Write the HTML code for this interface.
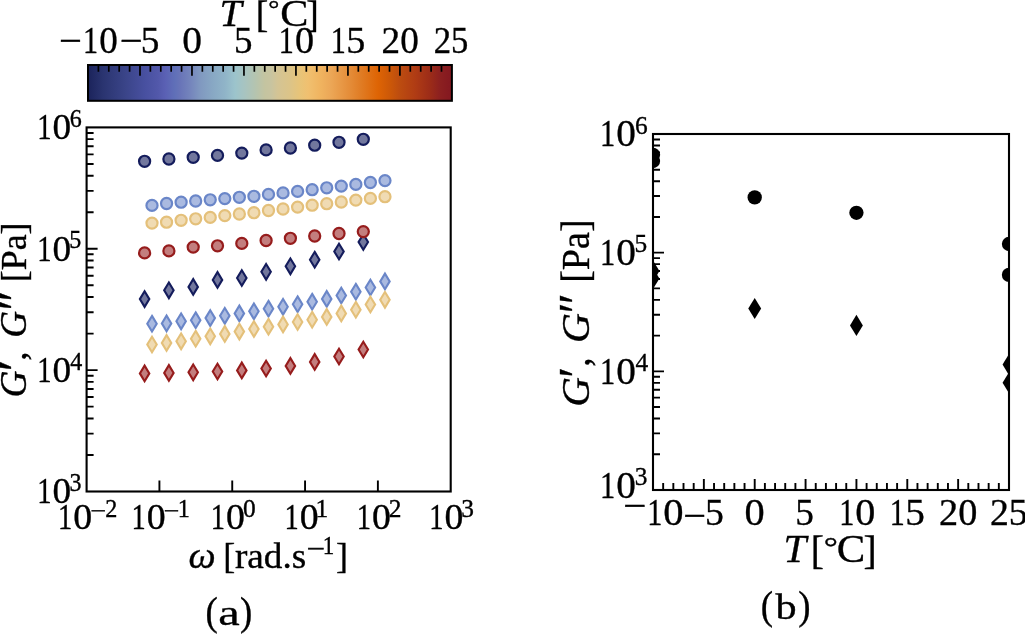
<!DOCTYPE html>
<html><head><meta charset="utf-8"><title>Figure</title>
<style>
html,body{margin:0;padding:0;background:#fff;width:1025px;height:634px;overflow:hidden}
svg{display:block}
text{font-family:"Liberation Serif","Times New Roman",serif;fill:#000;stroke:#000;stroke-width:0.35px;font-kerning:none}
</style></head><body>
<svg width="1025" height="634" viewBox="0 0 1025 634"><defs><linearGradient id="cm" gradientUnits="userSpaceOnUse" x1="88.0" x2="451.9" y1="0" y2="0"><stop offset="0.0027" stop-color="#1c245c"/><stop offset="0.0412" stop-color="#2a3470"/><stop offset="0.1017" stop-color="#3a4488"/><stop offset="0.1566" stop-color="#4850a0"/><stop offset="0.1924" stop-color="#5258aa"/><stop offset="0.2116" stop-color="#5a60b4"/><stop offset="0.2391" stop-color="#6070b8"/><stop offset="0.2528" stop-color="#6874b8"/><stop offset="0.2803" stop-color="#7484bc"/><stop offset="0.3078" stop-color="#8098c0"/><stop offset="0.3435" stop-color="#88a8c4"/><stop offset="0.3765" stop-color="#90b4c8"/><stop offset="0.4040" stop-color="#9cc4cc"/><stop offset="0.4314" stop-color="#a8c4c0"/><stop offset="0.4589" stop-color="#b4c4b0"/><stop offset="0.4864" stop-color="#c4c4a0"/><stop offset="0.5029" stop-color="#c8c4a0"/><stop offset="0.5221" stop-color="#d4c494"/><stop offset="0.5551" stop-color="#dcc488"/><stop offset="0.5826" stop-color="#e8c478"/><stop offset="0.6046" stop-color="#f0c070"/><stop offset="0.6375" stop-color="#f0b460"/><stop offset="0.6650" stop-color="#eca858"/><stop offset="0.6925" stop-color="#e89a48"/><stop offset="0.7200" stop-color="#e48c38"/><stop offset="0.7502" stop-color="#e07c24"/><stop offset="0.7969" stop-color="#de6404"/><stop offset="0.8299" stop-color="#cc5808"/><stop offset="0.8574" stop-color="#bc4c10"/><stop offset="0.8986" stop-color="#b03c14"/><stop offset="0.9398" stop-color="#9c2c18"/><stop offset="0.9673" stop-color="#8c2020"/><stop offset="0.9975" stop-color="#841820"/></linearGradient><clipPath id="cb"><rect x="653.0" y="134.0" width="356.0" height="356.0"/></clipPath></defs><rect width="1025" height="634" fill="#fff"/><rect x="88.0" y="65.0" width="363.90" height="35.80" fill="url(#cm)"/><path d="M98.40,65.00V71.70M108.79,65.00V71.70M119.19,65.00V71.70M129.59,65.00V71.70M139.99,65.00V75.70M150.38,65.00V71.70M160.78,65.00V71.70M171.18,65.00V71.70M181.57,65.00V71.70M191.97,65.00V75.70M202.37,65.00V71.70M212.77,65.00V71.70M223.16,65.00V71.70M233.56,65.00V71.70M243.96,65.00V75.70M254.35,65.00V71.70M264.75,65.00V71.70M275.15,65.00V71.70M285.55,65.00V71.70M295.94,65.00V75.70M306.34,65.00V71.70M316.74,65.00V71.70M327.13,65.00V71.70M337.53,65.00V71.70M347.93,65.00V75.70M358.33,65.00V71.70M368.72,65.00V71.70M379.12,65.00V71.70M389.52,65.00V71.70M399.91,65.00V75.70M410.31,65.00V71.70M420.71,65.00V71.70M431.11,65.00V71.70M441.50,65.00V71.70" stroke="#000" stroke-width="1.7" fill="none"/><rect x="88.0" y="65.0" width="363.90" height="35.80" fill="none" stroke="#000" stroke-width="2"/><text transform="translate(59.08,52.50) scale(1.0889,1)" font-size="37.3">−</text><text transform="translate(82.90,52.50) scale(0.8095,1)" font-size="37.3">1</text><text transform="translate(99.17,52.50) scale(0.9943,1)" font-size="37.3">0</text><text transform="translate(119.68,52.50) scale(1.0889,1)" font-size="37.3">−</text><text transform="translate(140.81,52.50) scale(1.0000,1)" font-size="37.3">5</text><text transform="translate(182.20,52.50) scale(1.0564,1)" font-size="37.3">0</text><text transform="translate(233.95,52.50) scale(0.9916,1)" font-size="37.3">5</text><text transform="translate(278.85,52.50) scale(0.8095,1)" font-size="37.3">1</text><text transform="translate(295.08,52.50) scale(1.0227,1)" font-size="37.3">0</text><text transform="translate(330.85,52.50) scale(0.8095,1)" font-size="37.3">1</text><text transform="translate(346.32,52.50) scale(1.0228,1)" font-size="37.3">5</text><text transform="translate(381.57,52.50) scale(0.9959,1)" font-size="37.3">20</text><text transform="translate(433.78,52.50) scale(0.9297,1)" font-size="37.3">25</text><text transform="translate(219.38,25.80) scale(1.0614,1)" font-size="37.7" font-style="italic">T</text><text transform="translate(255.70,26.50) scale(1.0000,1)" font-size="37.7">[</text><text transform="translate(268.37,16.90) scale(1.2045,1)" font-size="23.0">°</text><text transform="translate(280.37,25.80) scale(1.1199,1)" font-size="37.7">C</text><text transform="translate(306.14,26.50) scale(1.0000,1)" font-size="37.7">]</text><g><circle cx="144.60" cy="161.30" r="5.55" fill="#72779d" stroke="#141c5c" stroke-width="2.2"/><circle cx="168.90" cy="159.00" r="5.55" fill="#72779d" stroke="#141c5c" stroke-width="2.2"/><circle cx="193.20" cy="157.30" r="5.55" fill="#72779d" stroke="#141c5c" stroke-width="2.2"/><circle cx="217.50" cy="155.40" r="5.55" fill="#72779d" stroke="#141c5c" stroke-width="2.2"/><circle cx="241.80" cy="153.10" r="5.55" fill="#72779d" stroke="#141c5c" stroke-width="2.2"/><circle cx="266.10" cy="149.90" r="5.55" fill="#72779d" stroke="#141c5c" stroke-width="2.2"/><circle cx="290.40" cy="148.00" r="5.55" fill="#72779d" stroke="#141c5c" stroke-width="2.2"/><circle cx="314.70" cy="145.20" r="5.55" fill="#72779d" stroke="#141c5c" stroke-width="2.2"/><circle cx="339.00" cy="142.30" r="5.55" fill="#72779d" stroke="#141c5c" stroke-width="2.2"/><circle cx="363.30" cy="139.30" r="5.55" fill="#72779d" stroke="#141c5c" stroke-width="2.2"/><path d="M144.60,291.30L149.33,299.10L144.60,306.90L139.87,299.10Z" fill="#72779d" stroke="#141c5c" stroke-width="2.1" stroke-miterlimit="10"/><path d="M168.90,282.50L173.63,290.30L168.90,298.10L164.17,290.30Z" fill="#72779d" stroke="#141c5c" stroke-width="2.1" stroke-miterlimit="10"/><path d="M193.20,279.10L197.93,286.90L193.20,294.70L188.47,286.90Z" fill="#72779d" stroke="#141c5c" stroke-width="2.1" stroke-miterlimit="10"/><path d="M217.50,272.10L222.23,279.90L217.50,287.70L212.77,279.90Z" fill="#72779d" stroke="#141c5c" stroke-width="2.1" stroke-miterlimit="10"/><path d="M241.80,270.20L246.53,278.00L241.80,285.80L237.07,278.00Z" fill="#72779d" stroke="#141c5c" stroke-width="2.1" stroke-miterlimit="10"/><path d="M266.10,264.00L270.83,271.80L266.10,279.60L261.37,271.80Z" fill="#72779d" stroke="#141c5c" stroke-width="2.1" stroke-miterlimit="10"/><path d="M290.40,258.50L295.13,266.30L290.40,274.10L285.67,266.30Z" fill="#72779d" stroke="#141c5c" stroke-width="2.1" stroke-miterlimit="10"/><path d="M314.70,251.90L319.43,259.70L314.70,267.50L309.97,259.70Z" fill="#72779d" stroke="#141c5c" stroke-width="2.1" stroke-miterlimit="10"/><path d="M339.00,243.70L343.73,251.50L339.00,259.30L334.27,251.50Z" fill="#72779d" stroke="#141c5c" stroke-width="2.1" stroke-miterlimit="10"/><path d="M363.30,234.20L368.03,242.00L363.30,249.80L358.57,242.00Z" fill="#72779d" stroke="#141c5c" stroke-width="2.1" stroke-miterlimit="10"/><circle cx="152.00" cy="205.40" r="5.55" fill="#aabae0" stroke="#6a86c8" stroke-width="2.2"/><circle cx="166.56" cy="203.50" r="5.55" fill="#aabae0" stroke="#6a86c8" stroke-width="2.2"/><circle cx="181.12" cy="202.20" r="5.55" fill="#aabae0" stroke="#6a86c8" stroke-width="2.2"/><circle cx="195.68" cy="201.00" r="5.55" fill="#aabae0" stroke="#6a86c8" stroke-width="2.2"/><circle cx="210.24" cy="199.80" r="5.55" fill="#aabae0" stroke="#6a86c8" stroke-width="2.2"/><circle cx="224.80" cy="198.60" r="5.55" fill="#aabae0" stroke="#6a86c8" stroke-width="2.2"/><circle cx="239.36" cy="197.30" r="5.55" fill="#aabae0" stroke="#6a86c8" stroke-width="2.2"/><circle cx="253.92" cy="196.30" r="5.55" fill="#aabae0" stroke="#6a86c8" stroke-width="2.2"/><circle cx="268.48" cy="194.40" r="5.55" fill="#aabae0" stroke="#6a86c8" stroke-width="2.2"/><circle cx="283.04" cy="192.90" r="5.55" fill="#aabae0" stroke="#6a86c8" stroke-width="2.2"/><circle cx="297.60" cy="191.40" r="5.55" fill="#aabae0" stroke="#6a86c8" stroke-width="2.2"/><circle cx="312.16" cy="189.70" r="5.55" fill="#aabae0" stroke="#6a86c8" stroke-width="2.2"/><circle cx="326.72" cy="187.80" r="5.55" fill="#aabae0" stroke="#6a86c8" stroke-width="2.2"/><circle cx="341.28" cy="186.10" r="5.55" fill="#aabae0" stroke="#6a86c8" stroke-width="2.2"/><circle cx="355.84" cy="184.40" r="5.55" fill="#aabae0" stroke="#6a86c8" stroke-width="2.2"/><circle cx="370.40" cy="182.50" r="5.55" fill="#aabae0" stroke="#6a86c8" stroke-width="2.2"/><circle cx="384.96" cy="180.60" r="5.55" fill="#aabae0" stroke="#6a86c8" stroke-width="2.2"/><path d="M152.00,315.90L156.73,323.70L152.00,331.50L147.27,323.70Z" fill="#aabae0" stroke="#6a86c8" stroke-width="2.1" stroke-miterlimit="10"/><path d="M166.56,315.60L171.29,323.40L166.56,331.20L161.83,323.40Z" fill="#aabae0" stroke="#6a86c8" stroke-width="2.1" stroke-miterlimit="10"/><path d="M181.12,313.50L185.85,321.30L181.12,329.10L176.39,321.30Z" fill="#aabae0" stroke="#6a86c8" stroke-width="2.1" stroke-miterlimit="10"/><path d="M195.68,312.40L200.41,320.20L195.68,328.00L190.95,320.20Z" fill="#aabae0" stroke="#6a86c8" stroke-width="2.1" stroke-miterlimit="10"/><path d="M210.24,310.30L214.97,318.10L210.24,325.90L205.51,318.10Z" fill="#aabae0" stroke="#6a86c8" stroke-width="2.1" stroke-miterlimit="10"/><path d="M224.80,308.00L229.53,315.80L224.80,323.60L220.07,315.80Z" fill="#aabae0" stroke="#6a86c8" stroke-width="2.1" stroke-miterlimit="10"/><path d="M239.36,305.60L244.09,313.40L239.36,321.20L234.63,313.40Z" fill="#aabae0" stroke="#6a86c8" stroke-width="2.1" stroke-miterlimit="10"/><path d="M253.92,303.50L258.65,311.30L253.92,319.10L249.19,311.30Z" fill="#aabae0" stroke="#6a86c8" stroke-width="2.1" stroke-miterlimit="10"/><path d="M268.48,300.90L273.21,308.70L268.48,316.50L263.75,308.70Z" fill="#aabae0" stroke="#6a86c8" stroke-width="2.1" stroke-miterlimit="10"/><path d="M283.04,299.00L287.77,306.80L283.04,314.60L278.31,306.80Z" fill="#aabae0" stroke="#6a86c8" stroke-width="2.1" stroke-miterlimit="10"/><path d="M297.60,296.40L302.33,304.20L297.60,312.00L292.87,304.20Z" fill="#aabae0" stroke="#6a86c8" stroke-width="2.1" stroke-miterlimit="10"/><path d="M312.16,293.90L316.89,301.70L312.16,309.50L307.43,301.70Z" fill="#aabae0" stroke="#6a86c8" stroke-width="2.1" stroke-miterlimit="10"/><path d="M326.72,291.10L331.45,298.90L326.72,306.70L321.99,298.90Z" fill="#aabae0" stroke="#6a86c8" stroke-width="2.1" stroke-miterlimit="10"/><path d="M341.28,287.70L346.01,295.50L341.28,303.30L336.55,295.50Z" fill="#aabae0" stroke="#6a86c8" stroke-width="2.1" stroke-miterlimit="10"/><path d="M355.84,283.90L360.57,291.70L355.84,299.50L351.11,291.70Z" fill="#aabae0" stroke="#6a86c8" stroke-width="2.1" stroke-miterlimit="10"/><path d="M370.40,279.70L375.13,287.50L370.40,295.30L365.67,287.50Z" fill="#aabae0" stroke="#6a86c8" stroke-width="2.1" stroke-miterlimit="10"/><path d="M384.96,273.60L389.69,281.40L384.96,289.20L380.23,281.40Z" fill="#aabae0" stroke="#6a86c8" stroke-width="2.1" stroke-miterlimit="10"/><circle cx="152.00" cy="223.10" r="5.55" fill="#f0dbb3" stroke="#e4c07a" stroke-width="2.2"/><circle cx="166.56" cy="222.20" r="5.55" fill="#f0dbb3" stroke="#e4c07a" stroke-width="2.2"/><circle cx="181.12" cy="220.30" r="5.55" fill="#f0dbb3" stroke="#e4c07a" stroke-width="2.2"/><circle cx="195.68" cy="218.80" r="5.55" fill="#f0dbb3" stroke="#e4c07a" stroke-width="2.2"/><circle cx="210.24" cy="217.40" r="5.55" fill="#f0dbb3" stroke="#e4c07a" stroke-width="2.2"/><circle cx="224.80" cy="215.60" r="5.55" fill="#f0dbb3" stroke="#e4c07a" stroke-width="2.2"/><circle cx="239.36" cy="214.00" r="5.55" fill="#f0dbb3" stroke="#e4c07a" stroke-width="2.2"/><circle cx="253.92" cy="212.70" r="5.55" fill="#f0dbb3" stroke="#e4c07a" stroke-width="2.2"/><circle cx="268.48" cy="210.50" r="5.55" fill="#f0dbb3" stroke="#e4c07a" stroke-width="2.2"/><circle cx="283.04" cy="209.00" r="5.55" fill="#f0dbb3" stroke="#e4c07a" stroke-width="2.2"/><circle cx="297.60" cy="207.10" r="5.55" fill="#f0dbb3" stroke="#e4c07a" stroke-width="2.2"/><circle cx="312.16" cy="205.20" r="5.55" fill="#f0dbb3" stroke="#e4c07a" stroke-width="2.2"/><circle cx="326.72" cy="203.70" r="5.55" fill="#f0dbb3" stroke="#e4c07a" stroke-width="2.2"/><circle cx="341.28" cy="202.00" r="5.55" fill="#f0dbb3" stroke="#e4c07a" stroke-width="2.2"/><circle cx="355.84" cy="200.10" r="5.55" fill="#f0dbb3" stroke="#e4c07a" stroke-width="2.2"/><circle cx="370.40" cy="198.40" r="5.55" fill="#f0dbb3" stroke="#e4c07a" stroke-width="2.2"/><circle cx="384.96" cy="196.70" r="5.55" fill="#f0dbb3" stroke="#e4c07a" stroke-width="2.2"/><path d="M152.00,336.70L156.73,344.50L152.00,352.30L147.27,344.50Z" fill="#f0dbb3" stroke="#e4c07a" stroke-width="2.1" stroke-miterlimit="10"/><path d="M166.56,335.10L171.29,342.90L166.56,350.70L161.83,342.90Z" fill="#f0dbb3" stroke="#e4c07a" stroke-width="2.1" stroke-miterlimit="10"/><path d="M181.12,333.50L185.85,341.30L181.12,349.10L176.39,341.30Z" fill="#f0dbb3" stroke="#e4c07a" stroke-width="2.1" stroke-miterlimit="10"/><path d="M195.68,330.90L200.41,338.70L195.68,346.50L190.95,338.70Z" fill="#f0dbb3" stroke="#e4c07a" stroke-width="2.1" stroke-miterlimit="10"/><path d="M210.24,328.50L214.97,336.30L210.24,344.10L205.51,336.30Z" fill="#f0dbb3" stroke="#e4c07a" stroke-width="2.1" stroke-miterlimit="10"/><path d="M224.80,326.10L229.53,333.90L224.80,341.70L220.07,333.90Z" fill="#f0dbb3" stroke="#e4c07a" stroke-width="2.1" stroke-miterlimit="10"/><path d="M239.36,323.80L244.09,331.60L239.36,339.40L234.63,331.60Z" fill="#f0dbb3" stroke="#e4c07a" stroke-width="2.1" stroke-miterlimit="10"/><path d="M253.92,321.20L258.65,329.00L253.92,336.80L249.19,329.00Z" fill="#f0dbb3" stroke="#e4c07a" stroke-width="2.1" stroke-miterlimit="10"/><path d="M268.48,318.90L273.21,326.70L268.48,334.50L263.75,326.70Z" fill="#f0dbb3" stroke="#e4c07a" stroke-width="2.1" stroke-miterlimit="10"/><path d="M283.04,316.60L287.77,324.40L283.04,332.20L278.31,324.40Z" fill="#f0dbb3" stroke="#e4c07a" stroke-width="2.1" stroke-miterlimit="10"/><path d="M297.60,314.20L302.33,322.00L297.60,329.80L292.87,322.00Z" fill="#f0dbb3" stroke="#e4c07a" stroke-width="2.1" stroke-miterlimit="10"/><path d="M312.16,311.90L316.89,319.70L312.16,327.50L307.43,319.70Z" fill="#f0dbb3" stroke="#e4c07a" stroke-width="2.1" stroke-miterlimit="10"/><path d="M326.72,309.10L331.45,316.90L326.72,324.70L321.99,316.90Z" fill="#f0dbb3" stroke="#e4c07a" stroke-width="2.1" stroke-miterlimit="10"/><path d="M341.28,305.60L346.01,313.40L341.28,321.20L336.55,313.40Z" fill="#f0dbb3" stroke="#e4c07a" stroke-width="2.1" stroke-miterlimit="10"/><path d="M355.84,301.90L360.57,309.70L355.84,317.50L351.11,309.70Z" fill="#f0dbb3" stroke="#e4c07a" stroke-width="2.1" stroke-miterlimit="10"/><path d="M370.40,296.70L375.13,304.50L370.40,312.30L365.67,304.50Z" fill="#f0dbb3" stroke="#e4c07a" stroke-width="2.1" stroke-miterlimit="10"/><path d="M384.96,292.00L389.69,299.80L384.96,307.60L380.23,299.80Z" fill="#f0dbb3" stroke="#e4c07a" stroke-width="2.1" stroke-miterlimit="10"/><circle cx="144.60" cy="252.90" r="5.55" fill="#c37e7e" stroke="#961c1c" stroke-width="2.2"/><circle cx="168.90" cy="250.90" r="5.55" fill="#c37e7e" stroke="#961c1c" stroke-width="2.2"/><circle cx="193.20" cy="247.10" r="5.55" fill="#c37e7e" stroke="#961c1c" stroke-width="2.2"/><circle cx="217.50" cy="245.80" r="5.55" fill="#c37e7e" stroke="#961c1c" stroke-width="2.2"/><circle cx="241.80" cy="243.40" r="5.55" fill="#c37e7e" stroke="#961c1c" stroke-width="2.2"/><circle cx="266.10" cy="240.50" r="5.55" fill="#c37e7e" stroke="#961c1c" stroke-width="2.2"/><circle cx="290.40" cy="238.30" r="5.55" fill="#c37e7e" stroke="#961c1c" stroke-width="2.2"/><circle cx="314.70" cy="236.00" r="5.55" fill="#c37e7e" stroke="#961c1c" stroke-width="2.2"/><circle cx="339.00" cy="233.50" r="5.55" fill="#c37e7e" stroke="#961c1c" stroke-width="2.2"/><circle cx="363.30" cy="231.60" r="5.55" fill="#c37e7e" stroke="#961c1c" stroke-width="2.2"/><path d="M144.60,365.60L149.33,373.40L144.60,381.20L139.87,373.40Z" fill="#c37e7e" stroke="#961c1c" stroke-width="2.1" stroke-miterlimit="10"/><path d="M168.90,365.10L173.63,372.90L168.90,380.70L164.17,372.90Z" fill="#c37e7e" stroke="#961c1c" stroke-width="2.1" stroke-miterlimit="10"/><path d="M193.20,364.50L197.93,372.30L193.20,380.10L188.47,372.30Z" fill="#c37e7e" stroke="#961c1c" stroke-width="2.1" stroke-miterlimit="10"/><path d="M217.50,363.70L222.23,371.50L217.50,379.30L212.77,371.50Z" fill="#c37e7e" stroke="#961c1c" stroke-width="2.1" stroke-miterlimit="10"/><path d="M241.80,362.60L246.53,370.40L241.80,378.20L237.07,370.40Z" fill="#c37e7e" stroke="#961c1c" stroke-width="2.1" stroke-miterlimit="10"/><path d="M266.10,360.70L270.83,368.50L266.10,376.30L261.37,368.50Z" fill="#c37e7e" stroke="#961c1c" stroke-width="2.1" stroke-miterlimit="10"/><path d="M290.40,358.10L295.13,365.90L290.40,373.70L285.67,365.90Z" fill="#c37e7e" stroke="#961c1c" stroke-width="2.1" stroke-miterlimit="10"/><path d="M314.70,354.10L319.43,361.90L314.70,369.70L309.97,361.90Z" fill="#c37e7e" stroke="#961c1c" stroke-width="2.1" stroke-miterlimit="10"/><path d="M339.00,348.70L343.73,356.50L339.00,364.30L334.27,356.50Z" fill="#c37e7e" stroke="#961c1c" stroke-width="2.1" stroke-miterlimit="10"/><path d="M363.30,341.70L368.03,349.50L363.30,357.30L358.57,349.50Z" fill="#c37e7e" stroke="#961c1c" stroke-width="2.1" stroke-miterlimit="10"/></g><path d="M86.60,454.96H93.60M86.60,433.59H93.60M86.60,418.43H93.60M86.60,406.67H93.60M86.60,397.06H93.60M86.60,388.93H93.60M86.60,381.89H93.60M86.60,375.69H93.60M86.60,370.13H97.60M86.60,333.60H93.60M86.60,312.23H93.60M86.60,297.06H93.60M86.60,285.30H93.60M86.60,275.69H93.60M86.60,267.57H93.60M86.60,260.53H93.60M86.60,254.32H93.60M86.60,248.77H97.60M86.60,212.23H93.60M86.60,190.86H93.60M86.60,175.70H93.60M86.60,163.94H93.60M86.60,154.33H93.60M86.60,146.20H93.60M86.60,139.16H93.60M86.60,132.95H93.60M159.42,491.50V480.50M232.24,491.50V480.50M305.06,491.50V480.50M377.88,491.50V480.50" stroke="#000" stroke-width="1.9" fill="none"/><rect x="86.6" y="127.4" width="364.10" height="364.10" fill="none" stroke="#000" stroke-width="2.1"/><text transform="translate(37.19,503.30) scale(0.8095,1)" font-size="35.3">1</text><text transform="translate(52.51,503.30) scale(1.0543,1)" font-size="35.3">0</text><text transform="translate(69.55,491.10) scale(0.9800,1)" font-size="24.5">3</text><text transform="translate(37.19,381.93) scale(0.8095,1)" font-size="35.3">1</text><text transform="translate(52.51,381.93) scale(1.0543,1)" font-size="35.3">0</text><text transform="translate(70.23,369.73) scale(0.9800,1)" font-size="24.5">4</text><text transform="translate(37.19,260.57) scale(0.8095,1)" font-size="35.3">1</text><text transform="translate(52.51,260.57) scale(1.0543,1)" font-size="35.3">0</text><text transform="translate(69.30,248.37) scale(0.9800,1)" font-size="24.5">5</text><text transform="translate(37.19,139.20) scale(0.8095,1)" font-size="35.3">1</text><text transform="translate(52.51,139.20) scale(1.0543,1)" font-size="35.3">0</text><text transform="translate(69.67,127.00) scale(0.9800,1)" font-size="24.5">6</text><text transform="translate(57.99,529.40) scale(0.8095,1)" font-size="35.2">1</text><text transform="translate(73.25,529.40) scale(1.0734,1)" font-size="35.2">0</text><text transform="translate(90.41,518.93) scale(1.1544,1)" font-size="24.2">−</text><text transform="translate(105.34,517.00) scale(1.0000,1)" font-size="24.2">2</text><text transform="translate(131.41,529.40) scale(0.8095,1)" font-size="35.2">1</text><text transform="translate(146.66,529.40) scale(1.0734,1)" font-size="35.2">0</text><text transform="translate(163.82,518.93) scale(1.1544,1)" font-size="24.2">−</text><text transform="translate(177.68,517.00) scale(1.0000,1)" font-size="24.2">1</text><text transform="translate(210.70,529.40) scale(0.8095,1)" font-size="35.2">1</text><text transform="translate(225.95,529.40) scale(1.0734,1)" font-size="35.2">0</text><text transform="translate(242.94,517.00) scale(1.0500,1)" font-size="24.2">0</text><text transform="translate(284.43,529.40) scale(0.8095,1)" font-size="35.2">1</text><text transform="translate(299.68,529.40) scale(1.0734,1)" font-size="35.2">0</text><text transform="translate(315.40,517.00) scale(1.0500,1)" font-size="24.2">1</text><text transform="translate(356.63,529.40) scale(0.8095,1)" font-size="35.2">1</text><text transform="translate(371.88,529.40) scale(1.0734,1)" font-size="35.2">0</text><text transform="translate(388.72,517.00) scale(1.0500,1)" font-size="24.2">2</text><text transform="translate(429.30,529.40) scale(0.8095,1)" font-size="35.2">1</text><text transform="translate(444.55,529.40) scale(1.0734,1)" font-size="35.2">0</text><text transform="translate(461.29,517.00) scale(1.0500,1)" font-size="24.2">3</text><text transform="translate(26.20,397.56) rotate(-90) scale(0.9956,1)" font-size="37.5" font-style="italic">G</text><text transform="translate(30.70,374.88) rotate(-90) scale(1.1868,1)" font-size="47" font-style="italic">′</text><text transform="translate(26.20,360.71) rotate(-90) scale(1.0259,1)" font-size="36.0">,</text><text transform="translate(26.20,337.65) rotate(-90) scale(0.9915,1)" font-size="37.5" font-style="italic">G</text><text transform="translate(30.70,313.48) rotate(-90) scale(1.0082,1)" font-size="47" font-style="italic">″</text><text transform="translate(26.20,282.16) rotate(-90) scale(0.9939,1)" font-size="36.0">[Pa]</text><text transform="translate(188.52,568.20) scale(1.0261,1)" font-size="37.5" font-style="italic">ω</text><text transform="translate(223.33,568.20) scale(1.0000,1)" font-size="36">[</text><text transform="translate(234.96,568.20) scale(1.0335,1)" font-size="36">rad.s</text><text transform="translate(306.46,556.80) scale(1.3152,1)" font-size="25">−</text><text transform="translate(322.68,553.90) scale(0.9203,1)" font-size="25">1</text><text transform="translate(335.88,568.20) scale(1.0000,1)" font-size="36">]</text><text transform="translate(205.38,624.50) scale(0.9000,1)" font-size="41" stroke-width="0">(</text><text transform="translate(218.20,624.60) scale(1.3320,1)" font-size="36.3" stroke-width="0">a</text><text transform="translate(239.93,624.50) scale(0.9000,1)" font-size="41" stroke-width="0">)</text><g clip-path="url(#cb)"><circle cx="653.00" cy="154.80" r="7.15"/><circle cx="653.00" cy="161.00" r="7.15"/><circle cx="754.71" cy="197.40" r="7.15"/><circle cx="856.43" cy="212.80" r="7.15"/><circle cx="1009.00" cy="244.00" r="7.15"/><circle cx="1009.00" cy="274.90" r="7.15"/><path d="M653.00,260.45L659.45,271.00L653.00,281.55L646.55,271.00Z"/><path d="M653.00,267.95L659.45,278.50L653.00,289.05L646.55,278.50Z"/><path d="M754.71,297.95L761.16,308.50L754.71,319.05L748.26,308.50Z"/><path d="M856.43,314.85L862.88,325.40L856.43,335.95L849.98,325.40Z"/><path d="M1009.00,354.05L1015.45,364.60L1009.00,375.15L1002.55,364.60Z"/><path d="M1009.00,372.25L1015.45,382.80L1009.00,393.35L1002.55,382.80Z"/></g><path d="M653.00,454.28H660.00M653.00,433.38H660.00M653.00,418.56H660.00M653.00,407.06H660.00M653.00,397.66H660.00M653.00,389.72H660.00M653.00,382.83H660.00M653.00,376.76H660.00M653.00,371.33H664.00M653.00,335.61H660.00M653.00,314.71H660.00M653.00,299.89H660.00M653.00,288.39H660.00M653.00,278.99H660.00M653.00,271.05H660.00M653.00,264.17H660.00M653.00,258.10H660.00M653.00,252.67H664.00M653.00,216.94H660.00M653.00,196.05H660.00M653.00,181.22H660.00M653.00,169.72H660.00M653.00,160.33H660.00M653.00,152.38H660.00M653.00,145.50H660.00M653.00,139.43H660.00M663.17,490.00V483.00M673.34,490.00V483.00M683.51,490.00V483.00M693.69,490.00V483.00M703.86,490.00V479.00M714.03,490.00V483.00M724.20,490.00V483.00M734.37,490.00V483.00M744.54,490.00V483.00M754.71,490.00V479.00M764.89,490.00V483.00M775.06,490.00V483.00M785.23,490.00V483.00M795.40,490.00V483.00M805.57,490.00V479.00M815.74,490.00V483.00M825.91,490.00V483.00M836.09,490.00V483.00M846.26,490.00V483.00M856.43,490.00V479.00M866.60,490.00V483.00M876.77,490.00V483.00M886.94,490.00V483.00M897.11,490.00V483.00M907.29,490.00V479.00M917.46,490.00V483.00M927.63,490.00V483.00M937.80,490.00V483.00M947.97,490.00V483.00M958.14,490.00V479.00M968.31,490.00V483.00M978.49,490.00V483.00M988.66,490.00V483.00M998.83,490.00V483.00" stroke="#000" stroke-width="1.9" fill="none"/><rect x="653.0" y="134.0" width="356.00" height="356.00" fill="none" stroke="#000" stroke-width="2.1"/><text transform="translate(599.92,497.50) scale(0.8095,1)" font-size="37.6">1</text><text transform="translate(616.26,497.50) scale(1.0446,1)" font-size="37.6">0</text><text transform="translate(634.78,484.70) scale(0.9700,1)" font-size="26.2">3</text><text transform="translate(599.92,383.63) scale(0.8095,1)" font-size="37.6">1</text><text transform="translate(616.26,383.63) scale(1.0446,1)" font-size="37.6">0</text><text transform="translate(635.50,370.83) scale(0.9700,1)" font-size="26.2">4</text><text transform="translate(599.92,264.97) scale(0.8095,1)" font-size="37.6">1</text><text transform="translate(616.26,264.97) scale(1.0446,1)" font-size="37.6">0</text><text transform="translate(634.52,252.17) scale(0.9700,1)" font-size="26.2">5</text><text transform="translate(599.92,146.30) scale(0.8095,1)" font-size="37.6">1</text><text transform="translate(616.26,146.30) scale(1.0446,1)" font-size="37.6">0</text><text transform="translate(634.91,133.50) scale(0.9700,1)" font-size="26.2">6</text><text transform="translate(623.16,517.85) scale(1.1034,1)" font-size="37.2">−</text><text transform="translate(647.15,524.75) scale(0.8095,1)" font-size="37.2">1</text><text transform="translate(663.25,524.75) scale(1.0915,1)" font-size="37.2">0</text><text transform="translate(683.19,527.65) scale(1.0861,1)" font-size="37.2">−</text><text transform="translate(705.11,524.75) scale(1.0143,1)" font-size="37.2">5</text><text transform="translate(744.46,524.75) scale(1.0846,1)" font-size="37.2">0</text><text transform="translate(795.24,524.75) scale(1.0010,1)" font-size="37.2">5</text><text transform="translate(839.15,524.75) scale(0.8095,1)" font-size="37.2">1</text><text transform="translate(855.26,524.75) scale(1.0788,1)" font-size="37.2">0</text><text transform="translate(889.85,524.75) scale(0.8095,1)" font-size="37.2">1</text><text transform="translate(905.21,524.75) scale(1.0549,1)" font-size="37.2">5</text><text transform="translate(939.02,524.75) scale(1.0279,1)" font-size="37.2">20</text><text transform="translate(989.94,524.75) scale(1.0143,1)" font-size="37.2">25</text><text transform="translate(588.50,406.87) rotate(-90) scale(1.0013,1)" font-size="41.0" font-style="italic">G</text><text transform="translate(593.30,381.03) rotate(-90) scale(1.0157,1)" font-size="50" font-style="italic">′</text><text transform="translate(588.50,366.81) rotate(-90) scale(0.9326,1)" font-size="39.6">,</text><text transform="translate(588.50,342.99) rotate(-90) scale(1.0126,1)" font-size="41.0" font-style="italic">G</text><text transform="translate(593.30,316.43) rotate(-90) scale(0.9737,1)" font-size="50" font-style="italic">″</text><text transform="translate(588.50,282.83) rotate(-90) scale(0.9618,1)" font-size="39.6">[Pa]</text><text transform="translate(783.62,562.20) scale(1.0360,1)" font-size="39.5" font-style="italic">T</text><text transform="translate(810.77,563.80) scale(1.0000,1)" font-size="39.5">[</text><text transform="translate(823.71,555.50) scale(1.2879,1)" font-size="27.4">°</text><text transform="translate(836.75,562.40) scale(1.0426,1)" font-size="41.0">C</text><text transform="translate(863.48,563.80) scale(1.0000,1)" font-size="39.5">]</text><text transform="translate(760.78,619.30) scale(0.9000,1)" font-size="41" stroke-width="0">(</text><text transform="translate(775.60,619.30) scale(1.1662,1)" font-size="36.2" stroke-width="0">b</text><text transform="translate(798.13,619.30) scale(0.9000,1)" font-size="41" stroke-width="0">)</text></svg>
</body></html>
